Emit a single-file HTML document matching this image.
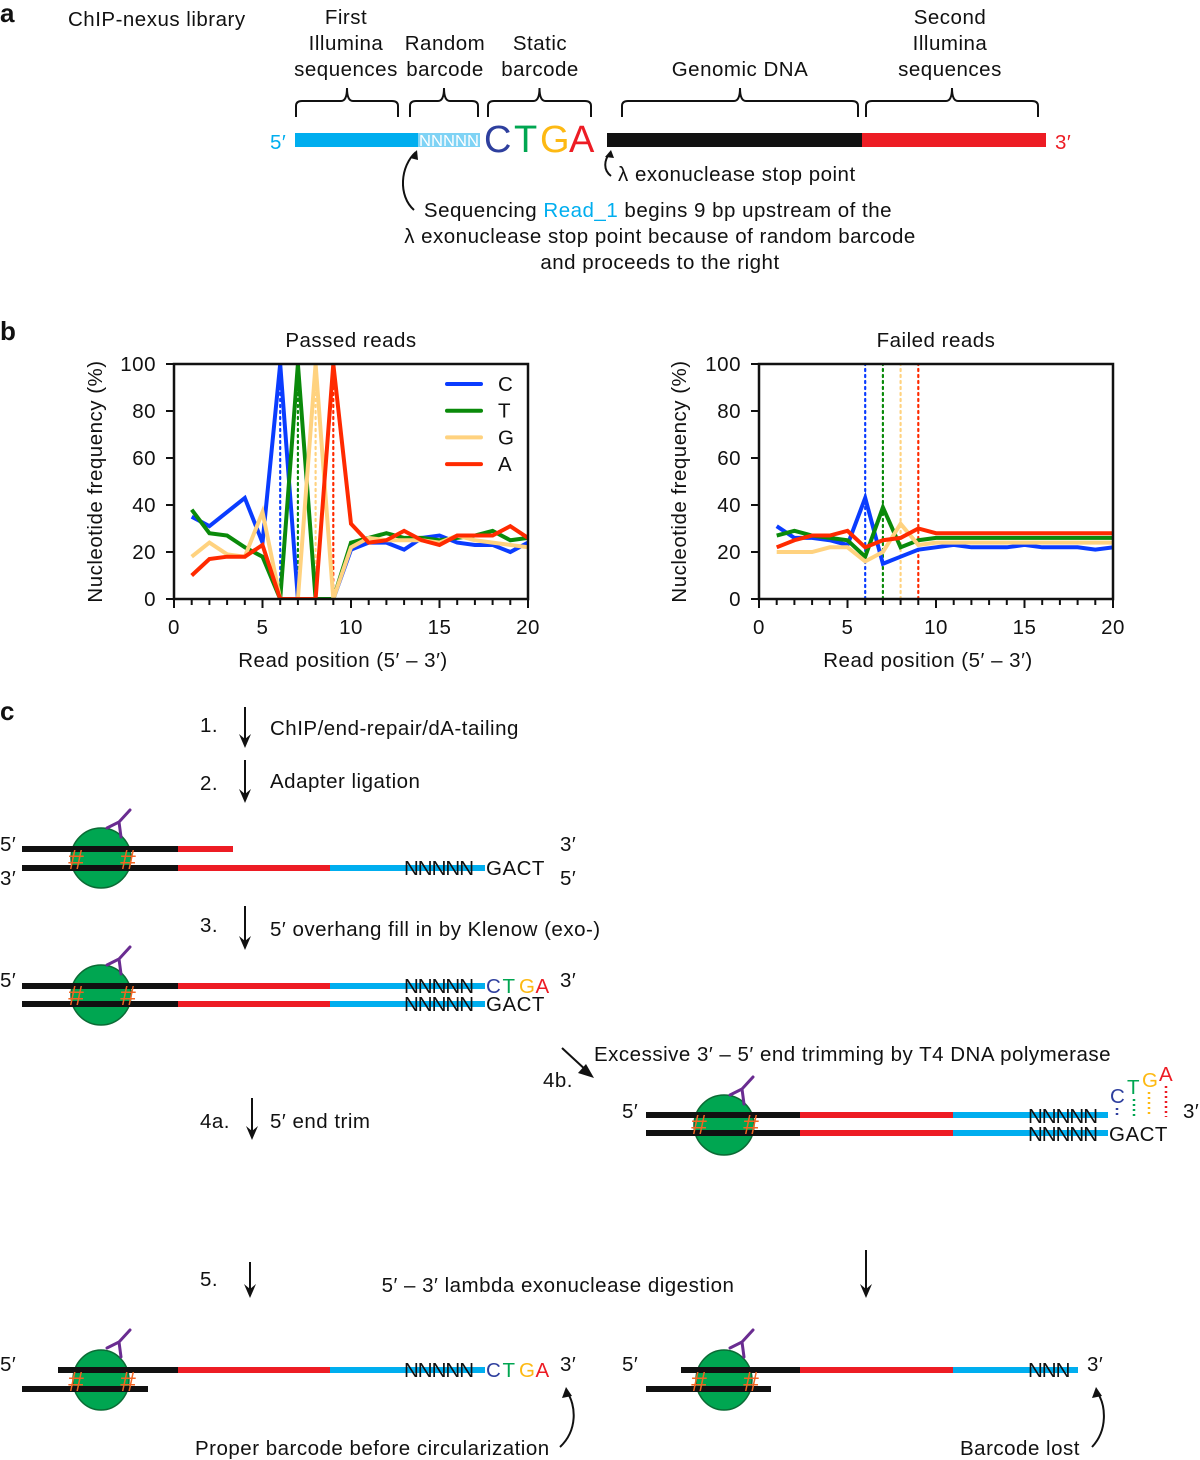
<!DOCTYPE html>
<html><head><meta charset="utf-8"><style>
html,body{margin:0;padding:0;background:#fff}
svg{display:block;font-family:"Liberation Sans",sans-serif}
text{font-size:20.5px;fill:#111;letter-spacing:0.5px}
</style></head><body>
<svg id="fig" width="1200" height="1460" viewBox="0 0 1200 1460">
<defs>
<clipPath id="clip1"><rect x="174" y="364" width="354" height="235"/></clipPath>
<clipPath id="clip2"><rect x="759" y="364" width="354" height="235"/></clipPath>
</defs>
<g>
<text x="0" y="22" style="font-size:26px;font-weight:bold">a</text>
<text x="68" y="26">ChIP-nexus library</text>
<g text-anchor="middle">
<text x="346" y="24">First</text><text x="346" y="50">Illumina</text><text x="346" y="76">sequences</text>
<text x="445" y="50">Random</text><text x="445" y="76">barcode</text>
<text x="540" y="50">Static</text><text x="540" y="76">barcode</text>
<text x="740" y="76">Genomic DNA</text>
<text x="950" y="24">Second</text><text x="950" y="50">Illumina</text><text x="950" y="76">sequences</text>
</g>
<g id="braces" fill="none" stroke="#111" stroke-width="2"></g>
<rect x="295" y="133" width="123" height="14" fill="#00aeef"/>
<rect x="418" y="133" width="62" height="14" fill="#7fd3f5"/>
<text x="419" y="146" textLength="60" lengthAdjust="spacingAndGlyphs" style="font-size:16px;fill:#fff;letter-spacing:0">NNNNN</text>
<text x="270" y="149" style="fill:#00aeef">5′</text>
<g>
<text x="484" y="152" style="font-size:38px;fill:#2e3f9e;letter-spacing:0">C</text>
<text x="514" y="152" style="font-size:38px;fill:#00a651;letter-spacing:0">T</text>
<text x="540" y="152" style="font-size:38px;fill:#fdb913;letter-spacing:0">G</text>
<text x="569" y="152" style="font-size:38px;fill:#ed1c24;letter-spacing:0">A</text>
</g>
<rect x="607" y="133" width="255" height="14" fill="#111"/>
<rect x="862" y="133" width="184" height="14" fill="#ed1c24"/>
<text x="1055" y="149" style="fill:#ed1c24">3′</text>
<path d="M414,210 C398,196 400,166 416,152" fill="none" stroke="#111" stroke-width="2"/>
<path d="M410,158 L417,150 L418,160 Z" fill="#111"/>
<path d="M611,176 C603,170 604,160 610,153" fill="none" stroke="#111" stroke-width="2"/>
<path d="M605,157 L611,150 L614,158 Z" fill="#111"/>
<text x="618" y="181">λ exonuclease stop point</text>
<g text-anchor="middle">
<text x="658" y="217">Sequencing <tspan style="fill:#00aeef">Read_1</tspan> begins 9 bp upstream of the</text>
<text x="660" y="243">λ exonuclease stop point because of random barcode</text>
<text x="660" y="269">and proceeds to the right</text>
</g>
</g>
<text x="0" y="340" style="font-size:26px;font-weight:bold">b</text>
<g id="chart1"></g>
<g id="chart2"></g>
<g>
<text x="0" y="720" style="font-size:26px;font-weight:bold">c</text>
<text x="200" y="732">1.</text>
<text x="270" y="735">ChIP/end-repair/dA-tailing</text>
<text x="200" y="790">2.</text>
<text x="270" y="788">Adapter ligation</text>
<text x="200" y="932">3.</text>
<text x="270" y="936">5′ overhang fill in by Klenow (exo-)</text>
<text x="594" y="1061">Excessive 3′ – 5′ end trimming by T4 DNA polymerase</text>
<text x="543" y="1087">4b.</text>
<text x="200" y="1128">4a.</text>
<text x="270" y="1128">5′ end trim</text>
<text x="200" y="1286">5.</text>
<text x="558" y="1292" text-anchor="middle">5′ – 3′ lambda exonuclease digestion</text>
<text x="195" y="1455">Proper barcode before circularization</text>
<text x="960" y="1455">Barcode lost</text>
<path d="M560,1447 C578,1430 576,1405 567,1392" fill="none" stroke="#111" stroke-width="2"/>
<path d="M562,1398 L566,1387 L572,1396 Z" fill="#111"/>
<path d="M1092,1447 C1108,1430 1106,1405 1097,1392" fill="none" stroke="#111" stroke-width="2"/>
<path d="M1092,1398 L1096,1387 L1102,1396 Z" fill="#111"/>
<g id="constructs"></g>
</g>
</svg>
<script>
const NS='http://www.w3.org/2000/svg';
function mk(parent,tag,attrs){const e=document.createElementNS(NS,tag);for(const k in attrs)e.setAttribute(k,attrs[k]);parent.appendChild(e);return e;}
const braceSpans=[[296,398],[410,478],[488,591],[622,858],[866,1038]];
const bg=document.getElementById('braces');
braceSpans.forEach(s=>{const c=(s[0]+s[1])/2;
 const p=mk(bg,'path',{d:`M${s[0]},117 L${s[0]},106 Q${s[0]},101 ${s[0]+6},101 L${c-6},101 Q${c},101 ${c},88 Q${c},101 ${c+6},101 L${s[1]-6},101 Q${s[1]},101 ${s[1]},106 L${s[1]},117`});
 
 
});

const positions=[1,2,3,4,5,6,7,8,9,10,11,12,13,14,15,16,17,18,19,20];
const xTicks=[0,5,10,15,20];
const yTicks=[0,20,40,60,80,100];
const seriesNames=['C','T','G','A'];
const passedC=[35,31,37,43,24,100,0,0,0,21,24,24,21,26,27,24,23,23,20,24];
const passedT=[38,28,27,22,18,0,100,0,0,24,26,28,26,26,25,26,27,29,25,26];
const passedG=[18,24,19,18,37,0,0,100,0,22,26,25,25,25,24,27,25,24,23,22];
const passedA=[10,17,18,18,23,0,0,0,100,32,24,25,29,25,23,27,27,27,31,26];
const failedC=[31,26,26,25,23,43,15,18,21,22,23,22,22,22,23,22,22,22,21,22];
const failedT=[27,29,27,26,25,18,39,22,25,26,26,26,26,26,26,26,26,26,26,26];
const failedG=[20,20,20,22,22,16,20,32,23,24,24,24,24,24,24,24,24,24,24,24];
const failedA=[22,25,27,27,29,22,25,26,30,28,28,28,28,28,28,28,28,28,28,28];
const markerPos=[6,7,8,9];
const colors=['#0a3cff','#0a8a0a','#ffd27f','#ff2a00'];

function chart(gid,x0,title,series,yTitleX,legend,clip){
 const g=document.getElementById(gid);
 const L=x0,R=x0+354,T=364,B=599;
 const sx=v=>L+(v/20)*(R-L), sy=v=>B-(v/100)*(B-T);
 const t=mk(g,'text',{x:(L+R)/2,y:347,'text-anchor':'middle'});t.textContent=title;
 
 
 const pg=mk(g,'g',{'clip-path':`url(#${clip})`});
 markerPos.forEach((p,i)=>{const ln=mk(pg,'line',{x1:sx(p),x2:sx(p),y1:sy(0),y2:sy(100),stroke:colors[i],'stroke-width':2.2,'stroke-dasharray':'2 4','stroke-linecap':'round'});
  
  });
 series.forEach((s,i)=>{const pts=positions.map((p,j)=>sx(p)+','+sy(s[j])).join(' ');
  const pl=mk(pg,'polyline',{points:pts,fill:'none',stroke:colors[i],'stroke-width':4,'stroke-linejoin':'miter','stroke-miterlimit':20});
  
  });
 const box=mk(g,'rect',{x:L,y:T,width:R-L,height:B-T,fill:'none',stroke:'#111','stroke-width':2.5});
 
 
 for(let v=0;v<=20;v++){const big=v%5==0;const tk=mk(g,'line',{x1:sx(v),x2:sx(v),y1:B,y2:B+(big?9:6),stroke:'#111','stroke-width':2});
  
  }
 xTicks.forEach(v=>{const tl=mk(g,'text',{x:sx(v),y:634,'text-anchor':'middle'});tl.textContent=v;
  
  });
 yTicks.forEach(v=>{const tk=mk(g,'line',{x1:L-8,x2:L,y1:sy(v),y2:sy(v),stroke:'#111','stroke-width':2});
  
  
  const tl=mk(g,'text',{x:L-18,y:sy(v)+7,'text-anchor':'end'});tl.textContent=v;
  
  });
 const xt=mk(g,'text',{x:(L+R)/2-8,y:667,'text-anchor':'middle'});xt.textContent='Read position (5′ – 3′)';
 
 
 const yt=mk(g,'text',{x:0,y:0,'text-anchor':'middle',transform:`translate(${yTitleX},${(T+B)/2}) rotate(-90)`});yt.textContent='Nucleotide frequency (%)';
 
 
 if(legend){seriesNames.forEach((n,i)=>{const y=384+i*26.7;
  const ll=mk(g,'line',{x1:447,x2:481,y1:y,y2:y,stroke:colors[i],'stroke-width':4,'stroke-linecap':'round'});
  
  
  const lt=mk(g,'text',{x:498,y:y+7});lt.textContent=n;
  
  });}
}
chart('chart1',174,'Passed reads',[passedC,passedT,passedG,passedA],102,true,'clip1');
chart('chart2',759,'Failed reads',[failedC,failedT,failedG,failedA],686,false,'clip2');

const cg=document.getElementById('constructs');
function bar(x1,x2,y,col){const r=mk(cg,'rect',{x:x1,y:y-3,width:x2-x1,height:6,fill:col});
 
 }
function txt(x,y,s,col,extra){const t=mk(cg,'text',Object.assign({x:x,y:y},extra||{}));t.textContent=s;if(col)t.style.fill=col;
 
 return t;}
function arrowDown(x,y1,y2){const l=mk(cg,'line',{x1:x,x2:x,y1:y1,y2:y2-6,stroke:'#111','stroke-width':2});
 
 
 mk(cg,'path',{d:`M${x-6},${y2-14} L${x},${y2} L${x+6},${y2-14} L${x},${y2-9} Z`,fill:'#111'});}
function protein(cx,cy,rx,ry){const e=mk(cg,'ellipse',{cx:cx,cy:cy,rx:rx,ry:ry,fill:'#00a651',stroke:'#0b6b35','stroke-width':1.5});
 
 }
function antibody(cx,cy){const p=mk(cg,'path',{d:`M${cx+18},${cy-36} L${cx+6},${cy-30} M${cx+18},${cy-36} L${cx+29},${cy-48} M${cx+18},${cy-36} L${cx+20},${cy-21}`,stroke:'#6a2c91','stroke-width':3,fill:'none','stroke-linecap':'round'});
 
 }
function hashes(xs,y){xs.forEach(x=>{const t=txt(x,y,'#','#f26522',{'text-anchor':'middle'});t.style.fontSize='28px';t.style.letterSpacing='0';});}
function ctga(x,y){const c=['#2e3f9e','#00a651','#fdb913','#ed1c24'];'CTGA'.split('').forEach((ch,i)=>txt(x+i*16.5,y,ch,c[i]));}
function N(x,y,s){const t=txt(x,y,s,null);t.style.letterSpacing='-1px';}
arrowDown(245,707,748);arrowDown(245,760,803);arrowDown(245,906,950);arrowDown(252,1098,1140);
arrowDown(250,1262,1298);arrowDown(866,1250,1298);
{const l=mk(cg,'line',{x1:562,y1:1048,x2:588,y2:1072,stroke:'#111','stroke-width':2});
 
 
 mk(cg,'path',{d:'M594,1078 L578,1073 L586,1064 Z',fill:'#111'});}
protein(101,858,30,30);antibody(101,858);
bar(22,178,849,'#111');bar(178,233,849,'#ed1c24');
bar(22,178,868,'#111');bar(178,330,868,'#ed1c24');bar(330,485,868,'#00aeef');
hashes([76,128],869);N(404,875,'NNNNN');txt(486,875,'GACT');
txt(0,851,'5′');txt(0,885,'3′');txt(560,851,'3′');txt(560,885,'5′');
protein(101,995,30,30);antibody(101,995);
bar(22,178,986,'#111');bar(178,330,986,'#ed1c24');bar(330,485,986,'#00aeef');
bar(22,178,1004,'#111');bar(178,330,1004,'#ed1c24');bar(330,485,1004,'#00aeef');
hashes([76,128],1005);N(404,993,'NNNNN');ctga(486,993);N(404,1011,'NNNNN');txt(486,1011,'GACT');
txt(0,987,'5′');txt(560,987,'3′');
protein(724,1125,30,30);antibody(724,1125);
bar(646,800,1115,'#111');bar(800,953,1115,'#ed1c24');bar(953,1108,1115,'#00aeef');
bar(646,800,1133,'#111');bar(800,953,1133,'#ed1c24');bar(953,1108,1133,'#00aeef');
hashes([699,751],1134);N(1028,1123,'NNNNN');N(1028,1141,'NNNNN');txt(1109,1141,'GACT');
txt(622,1118,'5′');txt(1183,1118,'3′');
[['C',1110,1103,'#2e3f9e'],['T',1127,1094,'#00a651'],['G',1142,1087,'#fdb913'],['A',1159,1081,'#ed1c24']].forEach((d,i)=>{
 txt(d[1],d[2],d[0],d[3]);
 const l=mk(cg,'line',{x1:d[1]+7,x2:d[1]+7,y1:d[2]+5,y2:1117,stroke:d[3],'stroke-width':2.5,'stroke-dasharray':'2 3'});
 
 });
protein(101,1380,28,30);antibody(101,1378);
bar(58,178,1370,'#111');bar(178,330,1370,'#ed1c24');bar(330,485,1370,'#00aeef');
bar(22,148,1389,'#111');
hashes([76,128],1391);N(404,1377,'NNNNN');ctga(486,1377);
txt(0,1371,'5′');txt(560,1371,'3′');
protein(724,1380,28,30);antibody(724,1378);
bar(681,800,1370,'#111');bar(800,953,1370,'#ed1c24');bar(953,1078,1370,'#00aeef');
bar(646,771,1389,'#111');
hashes([699,751],1391);N(1028,1377,'NNN');
txt(622,1371,'5′');txt(1087,1371,'3′');
</script>
</body></html>
